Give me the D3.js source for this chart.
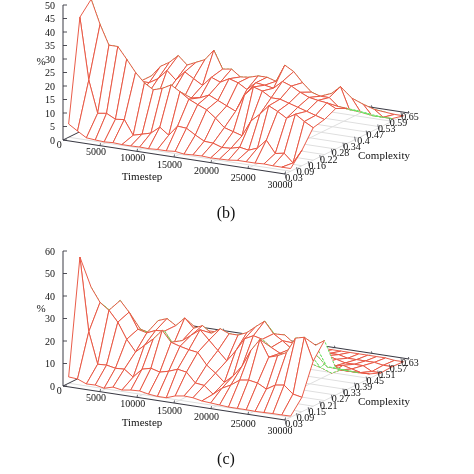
<!DOCTYPE html>
<html><head><meta charset="utf-8">
<script src="https://cdnjs.cloudflare.com/ajax/libs/d3/7.8.5/d3.min.js"></script>
<style>html,body{margin:0;background:#fff}svg{display:block;filter:blur(.35px)}text{font-family:"Liberation Serif",serif;fill:#111}</style>
</head><body><svg id="c" width="474" height="474"></svg>
<script>
const timesteps=[0,1200,2400,3600,4800,6000,7200,8400,9600,10800,12000,13200,14400,15600,16800,18000,19200,20400,21600,22800,24000,25200,26400,27600,28800,30000];
const timeTicks=[0,5000,10000,15000,20000,25000,30000];
const complexityB=["0.03","0.09","0.16","0.22","0.28","0.34","0.4","0.47","0.53","0.59","0.65"];
const complexityC=["0.03","0.09","0.15","0.21","0.27","0.33","0.39","0.45","0.51","0.57","0.63"];
const zTicksB=[0,5,10,15,20,25,30,35,40,45,50];
const zTicksC=[0,10,20,30,40,50,60];
// panel (b): % per complexity bin, one row per bin, one value per timestep
const b0=[4.9,2.8,.8,.5,.3,.5,.3,.3,.4,.3,.5,.5,.8,.3,.5,.6,.4,.5,.6,1,1,1,1.2,1,1,1];
const b1=[42.4,19.6,7.8,8.3,6.6,7,1.7,2.6,3.5,6.2,3.7,7.6,7.3,5.3,3.5,3.3,2.2,2.4,3.3,2.7,4,7.4,3,3.6,.5,5.7];
const b2=[47,38.2,31,31,26.8,22.4,19,17,18,19.8,17.8,15.5,14,12.6,10,7,6,5,11,14,17.6,16,14,16,13.8,12];
const b3=[25,16,15.8,14.5,12,11.8,10,12.8,15,11.8,13.4,14,15.5,14,12.5,11,17.5,21,20,18,18,17,16,15,14,13];
const b4=[14,12,14.8,14,14,16,19.5,16.5,20,18,16,19.5,18.2,20,19,17,20,19.6,19,22,20.8,19,17.6,17,16.6,15];
const b5=[8,10,11,14,18,20,23,20,21.5,23,27,20.5,21,18.6,19,20,20,19,25.5,23.6,20,17,16,16,13.2,13];
const b6=[4,5,6,8,10,11,13,13,14,15,16,14,14,14,13,13,14,14,14,13,11,12.7,15,18,10,10];
const b7=[2,3,4,5,6,7,8,8,9,9,10,10,9,9,9,8,9,9,9,9,8,8,8,11.7,7,6.8];
const b8=[1,2,2,3,3,4,5,5,5,5,6,6,5,5,5,5,5,5,5,5,5,5,5,7.4,3.7,3.7];
const b9=[1,1,1,2,2,2,2,3,3,3,3,3,3,2,3,3,3,3,3,3,3,3,3,3.4,1,1];
const b10=[1,1,1,1,1,1,1,1,1,1,1,1,1,1,1,1,1,1,1,1,.5,.5,.5,.3,0,0];
// panel (c)
const c0=[2.8,2.5,.9,1,.2,1.3,.6,1.2,1.4,.6,.2,.2,1.6,2.2,2,1.2,.9,.6,.3,.3,.3,.2,.3,.4,.4,.5];
const c1=[53.6,21,7.2,7.4,6.6,6.8,3.9,8,9,7.9,8.9,10.4,9.7,5.5,5,1.7,5,7,9.8,10.4,9.7,7.6,10,10.6,7.2,6.4];
const c2=[37.7,31.6,28.7,24,17,12,15.5,19,23.4,18.7,17.5,16.6,16,11,8,4.5,8,13,20.6,26,18.7,20,22,29,30,20];
const c3=[18,25,30.6,26,19,18,19.7,20,14.7,17,20,23,19,15,11,16,22,24,23,20,18,17,18,22,24,26.7];
const c4=[10,15,16,16,15,21,22.5,20,24,20,21.8,19,21.6,20,20,21.7,25,28,23,20.5,17.6,17,17,16,12,12];
const c5=[6,8,9,10,10,14,15,13,17,14,15,14,15,14,15,15,17,19,20,17,16,9,8,12,8.5,8.5];
const c6=[3,4,5,6,6,9,10,9,11,10,10,9,10,9,10,11,12,12,12,11,9,6,3,5,5,5];
const c7=[2,2,3,3,4,5,6,6,7,6,6,6,7,6,6,7,8,8,8,6,4,3,4,3,2,2];
const c8=[1,1,2,2,2,3,3,4,4,4,3,4,4,4,4,4,5,5,5,4,3,2,2,2,0,0];
const c9=[1,1,1,1,1,1,2,2,2,2,2,2,2,2,2,2,2,2,2,2,1,1,1,1,.3,.3];
const c10=[.5,.5,.5,.5,.5,.5,.5,.5,.5,.5,.5,.5,.5,.5,.5,.5,.5,.5,.5,.5,.5,.5,.5,.5,0,0];

const svg=d3.select("#c");
const RED="#e8533f",GREEN="#62e05c",AXIS="#3a3a44",GRID="#dfdfdf";
function panel(o){
  const t=d3.scaleLinear().domain([0,30000]);
  const tx=t.copy().range([0,222]), ty=t.copy().range([0,34]);
  const lx=t.copy().range([59.2,280]), ly=t.copy().range([o.y0+7.9,o.y0+47.5]);
  const cx=d3.scaleLinear().domain([-.5,10.5]).range([0,124]);
  const cy=d3.scaleLinear().domain([-.5,10.5]).range([0,-61]);
  const z=d3.scaleLinear().domain([0,o.zMax]).range([o.y0,o.y0-o.zPx]);
  const P=(time,j,v)=>[63+tx(time)+cx(j), ty(time)+cy(j)+z(v)];
  const g=svg.append("g");
  const seg=(a,b,col,w)=>g.append("line").attr("x1",a[0]).attr("y1",a[1]).attr("x2",b[0]).attr("y2",b[1]).attr("stroke",col).attr("stroke-width",w);
  o.labels.forEach((_,j)=>seg(P(0,j,0),P(30000,j,0),GRID,1));
  timeTicks.slice(1).forEach(v=>seg(P(v,-.5,0),P(v,10.5,0),GRID,1));
  seg(P(0,-.5,0),P(0,10.5,0),AXIS,1);
  seg(P(0,10.5,0),P(30000,10.5,0),AXIS,1.1);
  seg(P(0,-.5,0),P(30000,-.5,0),AXIS,1.1);
  seg([63,z(0)],[63,z(o.zMax)],AXIS,1);
  timeTicks.filter(v=>v>0).forEach(v=>seg(P(v,10.5,0),[P(v,10.5,0)[0]-.6,P(v,10.5,0)[1]-2],AXIS,.8));
  const cells=[];
  for(let j=o.rows.length-2;j>=0;j--)for(let i=0;i<timesteps.length-1;i++)cells.push([i,j]);
  const line=d3.line();
  g.selectAll("path.cell").data(cells).join("path").attr("class","cell")
   .each(function([i,j]){
     const q=[P(timesteps[i],j,o.rows[j][i]),P(timesteps[i+1],j,o.rows[j][i+1]),P(timesteps[i+1],j+1,o.rows[j+1][i+1]),P(timesteps[i],j+1,o.rows[j+1][i])];
     const under=d3.polygonArea(q)<0;
     d3.select(this).attr("d",line(q)+"Z").attr("fill","#fff")
       .attr("stroke",under?GREEN:RED).attr("stroke-width",under?1:.95).attr("stroke-linejoin","round")
       .attr("stroke-dasharray",under?"2.5,1.5":null);
   });
  o.zTicks.forEach(v=>{
    seg([63,z(v)],[67,z(v)],AXIS,.9);
    g.append("text").attr("x",55).attr("y",z(v)+3.5).attr("text-anchor","end").attr("font-size",10).text(v);
  });
  timeTicks.forEach(v=>{
    const p=P(v,-.5,0);
    if(v>0)seg(p,[p[0]+.5,p[1]-2.5],AXIS,.8);
    g.append("text").attr("x",lx(v)).attr("y",ly(v)).attr("text-anchor","middle").attr("font-size",10).text(v);
  });
  o.labels.forEach((l,j)=>{
    const x=285+11.6*j,y=o.y0+33.3-6.1*j;
    seg([x,y],[x+1,y+5],AXIS,.7);
    g.append("text").attr("x",x+9).attr("y",y+7.5).attr("text-anchor","middle").attr("font-size",10).text(l);
  });
  g.append("text").attr("x",142).attr("y",o.y0+39.5).attr("text-anchor","middle").attr("font-size",11).text("Timestep");
  g.append("text").attr("x",384).attr("y",o.y0+19).attr("text-anchor","middle").attr("font-size",11).text("Complexity");
  g.append("text").attr("x",41).attr("y",o.y0+o.pctDy).attr("text-anchor","middle").attr("font-size",11).text("%");
  g.append("text").attr("x",226).attr("y",o.y0+78).attr("text-anchor","middle").attr("font-size",16).text(o.caption);
}
panel({y0:140,zMax:50,zPx:135,zTicks:zTicksB,labels:complexityB,rows:[b0,b1,b2,b3,b4,b5,b6,b7,b8,b9,b10],caption:"(b)",pctDy:-75});
panel({y0:386,zMax:60,zPx:135,zTicks:zTicksC,labels:complexityC,rows:[c0,c1,c2,c3,c4,c5,c6,c7,c8,c9,c10],caption:"(c)",pctDy:-74});
</script></body></html>
